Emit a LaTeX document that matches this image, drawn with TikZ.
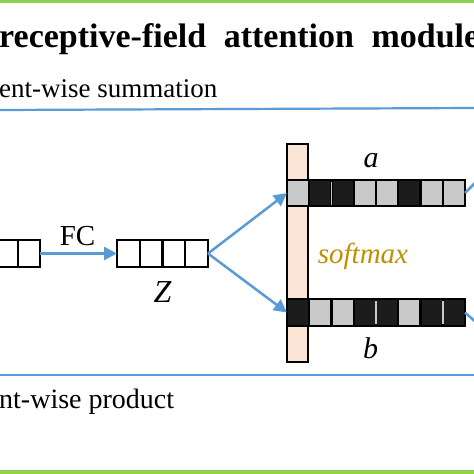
\documentclass[tikz,border=0pt]{standalone}
\usepackage{fontspec}
\setmainfont{Liberation Serif}
\usetikzlibrary{math}
\usetikzlibrary{arrows.meta}

\definecolor{framegreen}{HTML}{92D050}
\definecolor{lineblue}{HTML}{5B9BD5}
\definecolor{barpeach}{HTML}{FBE5D6}
\definecolor{cellgray}{HTML}{C9C9C9}
\definecolor{celldark}{HTML}{1C1C1C}
\definecolor{softgold}{HTML}{BF9000}

\tikzset{
  vcell/.style={draw=black, line width=2.2pt, minimum width=22.25pt, minimum height=26.5pt, inner sep=0pt, outer sep=0pt},
  flow/.style={lineblue, line width=2.5pt, -{Triangle[length=13pt,width=13pt]}},
  txt/.style={inner sep=0pt, anchor=base, font=\fontsize{29}{33}\selectfont},
  sep/.style={cellgray, line width=1.5pt}
}

\begin{document}
\begin{tikzpicture}[x=1pt, y=-1pt]
\clip (0,0) rectangle (474,474);
\fill[white] (0,0) rectangle (474,474);

\tikzmath{
\rowa = 193;
\rowb = 312.5;
\rowz = 253.5;
\cw = 22.25;
\zw = 22.75;
}

% frame lines
\fill[framegreen] (0,0) rectangle (474,3);
\fill[framegreen] (0,470) rectangle (474,474);
\draw[lineblue, line width=2.2pt] (0,110) -- (474,108);
\draw[lineblue, line width=2.2pt] (0,375) -- (474,375);

% texts
\node[txt, anchor=base west, font=\fontsize{34}{38}\selectfont\bfseries] (title) at (-1,47) {\spaceskip=17.5pt receptive-field attention module};
\node[txt, anchor=base west, font=\fontsize{27}{31}\selectfont] (sumtxt) at (-1,97) {ent-wise summation};
\node[txt, anchor=base west, font=\fontsize{28}{32}\selectfont] (prodtxt) at (-1,408) {nt-wise product};

% vectors
\node[vcell, minimum width=22pt] (s1) at (7,\rowz) {};
\node[vcell, minimum width=22pt] (s2) at (29,\rowz) {};
\foreach \i in {1,...,4}
  \node[vcell, minimum width=\zw pt] (z\i) at ({117+\zw*(\i-0.5)},\rowz) {};

% softmax bar
\node[draw, line width=2.2pt, fill=barpeach, minimum width=21pt, minimum height=218pt, inner sep=0pt] (smbar) at (297.5,253) {};

\foreach \f [count=\i] in {cellgray,celldark,celldark,cellgray,cellgray,celldark,cellgray,cellgray}
  \node[vcell, fill=\f] (a\i) at ({287+\cw*(\i-0.5)},\rowa) {};
\foreach \f [count=\i] in {celldark,cellgray,cellgray,celldark,celldark,cellgray,celldark,celldark}
  \node[vcell, fill=\f] (b\i) at ({287+\cw*(\i-0.5)},\rowb) {};

\draw[sep] ([yshift=11.5pt]a2.east) -- ([yshift=-11.5pt]a2.east);
\draw[sep] ([yshift=11.5pt]b4.east) -- ([yshift=-11.5pt]b4.east);
\draw[sep] ([yshift=11.5pt]b7.east) -- ([yshift=-11.5pt]b7.east);

% arrows
\draw[flow] (s2.east) -- (z1.west);
\draw[flow] (z4.east) -- (a1.west);
\draw[flow] (z4.east) -- (b1.west);

\coordinate (aout) at (478,180);
\coordinate (bout) at (478,324);
\draw[lineblue, line width=2.5pt] (a8.east) -- (aout);
\draw[lineblue, line width=2.5pt] (b8.east) -- (bout);

% labels
\node[txt] (fclbl) at (77.5,245) {FC};
\node[txt, font=\fontsize{32}{36}\selectfont\itshape] (zlbl) at (162.5,302) {Z};
\node[txt, font=\fontsize{30}{34}\selectfont\itshape] (albl) at (371,167) {a};
\node[txt, font=\fontsize{30}{34}\selectfont\itshape] (blbl) at (370.5,358) {b};
\node[txt, text=softgold, font=\fontsize{29}{33}\selectfont\itshape] (smlbl) at (363,263) {softmax};

\end{tikzpicture}
\end{document}
